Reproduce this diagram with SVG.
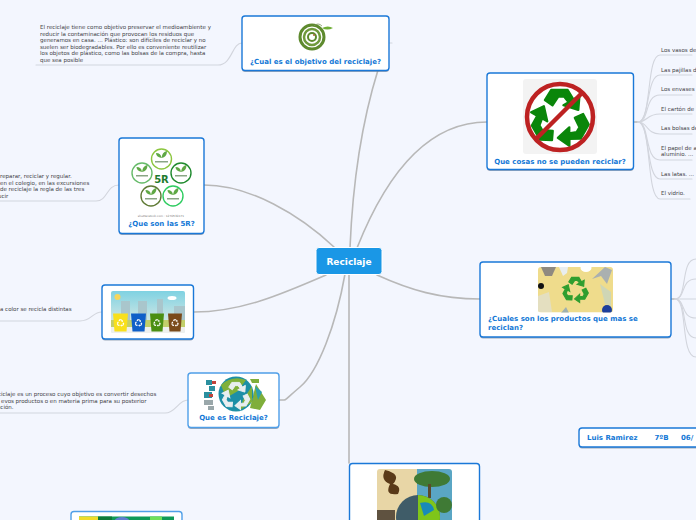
<svg xmlns="http://www.w3.org/2000/svg" width="696" height="520" viewBox="0 0 696 520">
<style>
text{font-family:"DejaVu Sans",Verdana,sans-serif}
.card{fill:#fff;stroke:#1a78d8;stroke-width:1.4}
.shadow{fill:#66758c;opacity:.6}
.t{font-size:7px;font-weight:700;fill:#1378d6}
.n{font-size:5.5px;fill:#3f3f46}
.main{fill:none;stroke:#b8b8b8;stroke-width:1.6;stroke-linecap:round}
.leaf{fill:none;stroke:#d2d5dd;stroke-width:1.1;stroke-linecap:round}
.ring{fill:#fff;stroke-width:1.4}
.lf{fill:#5fa845}
</style>
<defs>
<g id="rec3"><path id="arm" d="M-5.200-6.200L-3-9.700H2.600L4.600-6.400L6.700-7.600L6.300-2.800L1.200-4.400L3-5.400L1.400-7.400H-.6L-2.600-4.400Z"/><use href="#arm" transform="rotate(120)"/><use href="#arm" transform="rotate(240)"/></g>
<linearGradient id="sky" x1="0" y1="0" x2="0" y2="1"><stop offset="0" stop-color="#7fd2e2"/><stop offset=".7" stop-color="#cfe6e4"/></linearGradient>
<clipPath id="photo"><rect x="377" y="469" width="75" height="60" rx="3"/></clipPath>
<clipPath id="prod"><rect x="538" y="267" width="75" height="45.500" rx="3"/></clipPath>
</defs>
<rect width="696" height="520" fill="#f3f6fe"/>
<g id="connectors">
<path class="main" d="M350 248C353 175 364 115 378 70"/>
<path class="main" d="M357 248C380 190 420 122 487 122"/>
<path class="main" d="M334 247C300 215 250 185 204 185"/>
<path class="main" d="M326 275C280 295 240 312 194 312"/>
<path class="main" d="M345 274C336 325 318 372 300 387S288 400 279 400"/>
<path class="main" d="M377 275C410 290 440 299 480 299"/>
<path class="main" d="M349 274V463"/>
<path class="leaf" d="M389 43H392"/>
<path class="leaf" d="M242 43C232 43 232 65 218 65H36"/>
<path class="leaf" d="M119 185C106 185 108 201 96 201H0"/>
<path class="leaf" d="M102 312C92 312 92 321 80 321H0"/>
<path class="leaf" d="M188 400C178 400 176 413 165 413H0"/>
<path class="main" d="M634 122H640"/>
<path class="leaf" d="M638 122C652 122 646 55 660 55H692"/>
<path class="leaf" d="M638 122C650 122 646 75 660 75H692"/>
<path class="leaf" d="M638 122C650 122 644 95 660 95H692"/>
<path class="leaf" d="M638 122C648 122 646 114 660 114H692"/>
<path class="leaf" d="M638 122C648 122 646 134 660 134H692"/>
<path class="leaf" d="M638 122C650 122 644 160 660 160H692"/>
<path class="leaf" d="M638 122C650 122 646 179 660 179H692"/>
<path class="leaf" d="M638 122C652 122 646 199 660 199H690"/>
<path class="main" d="M671 299H677"/>
<path class="leaf" d="M675 299C688 299 680 259 696 259"/>
<path class="leaf" d="M675 299C686 299 680 279 696 279"/>
<path class="leaf" d="M675 299H696"/>
<path class="leaf" d="M675 299C686 299 680 318 696 318"/>
<path class="leaf" d="M675 299C688 299 680 338 696 338"/>
<path class="leaf" d="M675 299C688 299 680 357 696 357"/>
</g>
<g id="central">
<rect x="316" y="247.500" width="66" height="27" rx="3" fill="#1a97e6" stroke="#fff" stroke-width="1"/>
<text x="349" y="265" text-anchor="middle" font-size="9" font-weight="700" fill="#fff">Reciclaje</text>
</g>
<g id="objetivo">
<rect class="shadow" x="242" y="18" width="147" height="54" rx="3"/>
<rect class="card" x="242" y="16" width="147" height="54.500" rx="3"/>
<circle cx="312" cy="37" r="12" fill="#fff" stroke="#5e8a2e" stroke-width="3"/>
<circle cx="312" cy="37" r="8" fill="none" stroke="#6f9a3c" stroke-width="2.500"/>
<circle cx="312" cy="37" r="4" fill="none" stroke="#5e8a2e" stroke-width="2"/>
<circle cx="314" cy="35" r="1" fill="#b0653a"/>
<path d="M314 26Q318 22 322 26" fill="none" stroke="#7f9a60" stroke-width=".8"/>
<path d="M322 28Q328 25 333 28Q327 31 322 28Z" fill="#6fae35"/>
<text class="t" x="315.500" y="64" text-anchor="middle">¿Cual es el objetivo del reciclaje?</text>
</g>
<g id="objetivo-nota">
<text class="n"><tspan x="40" y="29">El reciclaje tiene como objetivo preservar el medioambiente y</tspan><tspan x="40" y="35.500">reducir la contaminación que provocan los residuos que</tspan><tspan x="40" y="42">generamos en casa. ... Plástico: son difíciles de reciclar y no</tspan><tspan x="40" y="48.500">suelen ser biodegradables. Por ello es conveniente reutilizar</tspan><tspan x="40" y="55">los objetos de plástico, como las bolsas de la compra, hasta</tspan><tspan x="40" y="61.500">que sea posible</tspan></text>
</g>
<g id="cinco-r">
<rect class="shadow" x="119" y="140" width="85" height="95" rx="3"/>
<rect class="card" x="119" y="138" width="85" height="95.500" rx="3"/>
<circle class="ring" cx="161.500" cy="159" r="10" stroke="#8cc63f"/>
<circle class="ring" cx="142" cy="173" r="10" stroke="#66bb6a"/>
<circle class="ring" cx="181" cy="173" r="10" stroke="#1f8a2e"/>
<circle class="ring" cx="151" cy="196" r="10" stroke="#5f7a35"/>
<circle class="ring" cx="173" cy="196" r="10" stroke="#2ecc60"/>
<g class="lf">
<path d="M161.500 158Q156 157 156 153Q161 153 161.500 158Q162 152 167 151Q167 157 161.500 158Z"/>
<path d="M142 172Q136.500 171 136.500 167Q141.500 167 142 172Q142.500 166 147.500 165Q147.500 171 142 172Z"/>
<path d="M181 172Q175.500 171 175.500 167Q180.500 167 181 172Q181.500 166 186.500 165Q186.500 171 181 172Z"/>
<path d="M151 195Q145.500 194 145.500 190Q150.500 190 151 195Q151.500 189 156.500 188Q156.500 194 151 195Z"/>
<path d="M173 195Q167.500 194 167.500 190Q172.500 190 173 195Q173.500 189 178.500 188Q178.500 194 173 195Z"/>
</g>
<g fill="#8aa585">
<rect x="155" y="161" width="13" height="1.500"/><rect x="136" y="175" width="12" height="1.500"/><rect x="175" y="175" width="12" height="1.500"/><rect x="145" y="198" width="12" height="1.500"/><rect x="167" y="198" width="12" height="1.500"/>
</g>
<text x="161.500" y="183" text-anchor="middle" font-size="10" font-weight="700" fill="#1f7a2e">5R</text>
<text x="161" y="216.500" text-anchor="middle" font-size="2.900" fill="#777">shutterstock.com · 1270530171</text>
<text class="t" x="161.500" y="226" text-anchor="middle">¿Que son las 5R?</text>
</g>
<g id="cinco-r-nota">
<text class="n"><tspan x="0" y="178">reparar, reciclar y regular.</tspan><tspan x="0" y="184.500">en el colegio, en las excursiones</tspan><tspan x="0" y="191">de reciclaje la regla de las tres</tspan><tspan x="-2" y="197.500">ucir</tspan></text>
</g>
<g id="contenedores">
<rect class="shadow" x="102" y="287" width="91.500" height="53.500" rx="3"/>
<rect class="card" x="102" y="285" width="91.500" height="54" rx="3"/>
<rect x="111" y="291" width="74" height="42" rx="2" fill="url(#sky)"/>
<rect x="121" y="301" width="9" height="22" fill="#a9c6cc"/><rect x="138" y="301" width="9" height="22" fill="#a9c6cc"/><rect x="157" y="299" width="6" height="24" fill="#a9c6cc"/><rect x="174" y="306" width="11" height="17" fill="#a9c6cc"/>
<rect x="111" y="320" width="74" height="7" fill="#c2cf6a"/><path d="M111 327H185V331Q185 333 183 333H113Q111 333 111 331Z" fill="#eef0ee"/>
<circle cx="117.500" cy="297" r="3" fill="#f6d65a"/><ellipse cx="172" cy="298" rx="4.500" ry="2" fill="#fff"/>
<path d="M113 313.500H128L126.500 331.500H114.500Z" fill="#f8e01c"/><path d="M131 313.500H146L144.500 331.500H132.500Z" fill="#0f5fc8"/><path d="M150 313.500H164L162.500 331.500H151.500Z" fill="#4b8f12"/><path d="M168 313.500H182L180.500 331.500H169.500Z" fill="#7a4a1a"/>
<g fill="#fff"><use href="#rec3" transform="translate(120.500 323) scale(.38)"/><use href="#rec3" transform="translate(138.500 323) scale(.38)"/><use href="#rec3" transform="translate(157 323) scale(.38)"/><use href="#rec3" transform="translate(175 323) scale(.38)"/></g>
</g>
<text id="contenedores-nota" class="n" x="0" y="311">a color se recicla distintas</text>
<g id="que-es">
<rect class="shadow" x="188" y="375" width="91" height="54" rx="3"/>
<rect class="card" x="188" y="373" width="91" height="54.500" rx="3" style="stroke:#4f9fe8"/>
<g fill="#2a8f9f"><rect x="206" y="380" width="6" height="5"/><rect x="204" y="392" width="8" height="6"/><rect x="209" y="386" width="6" height="5"/></g>
<g fill="#c0433a"><rect x="212" y="381" width="4" height="3"/><rect x="209" y="394" width="4" height="3"/></g>
<g fill="#9aa7aa"><rect x="204" y="400" width="9" height="5"/><rect x="208" y="406" width="6" height="4"/></g>
<path d="M250 379H259V383H252ZM256 384L266 400L260 410L250 408Z" fill="#7fae3a"/>
<path d="M255 386L262 392L258 400Z" fill="#2a9fae"/>
<circle cx="236" cy="394" r="17.500" fill="#1d8fa6"/>
<path d="M221 385Q232 375 246 380L238 391L226 398Z" fill="#7fb03a"/><path d="M243 400L252 386L252 402L240 410Z" fill="#7fb03a"/>
<use href="#rec3" fill="#e8eef0" stroke="#e8eef0" stroke-width=".7" transform="translate(236 396) scale(1.400)"/>
<text class="t" x="233.500" y="420" text-anchor="middle">Que es Reciclaje?</text>
</g>
<g id="que-es-nota">
<text class="n"><tspan x="-2" y="396">ciclaje es un proceso cuyo objetivo es convertir desechos</tspan><tspan x="1" y="402.500">evos productos o en materia prima para su posterior</tspan><tspan x="-3" y="409">ación.</tspan></text>
</g>
<g id="no-reciclar">
<rect class="shadow" x="487" y="75" width="146.500" height="96" rx="3"/>
<rect class="card" x="487" y="73" width="146.500" height="96.500" rx="3"/>
<rect x="523" y="79" width="74" height="75" rx="3" fill="#f3f3f3"/>
<circle cx="560" cy="117" r="33" fill="#fff"/>
<use href="#rec3" fill="#0a860a" stroke="#0a860a" stroke-width=".8" stroke-linejoin="round" transform="translate(560 118) scale(2.900)"/>
<circle cx="560" cy="117" r="33" fill="none" stroke="#bd2222" stroke-width="4.500"/>
<path d="M536 139L581 94" stroke="#bd2222" stroke-width="4.500" fill="none"/>
<text class="t" x="560" y="163.500" text-anchor="middle">Que cosas no se pueden reciclar?</text>
</g>
<g id="no-reciclar-items">
<text class="n" x="661" y="51.500">Los vasos de</text>
<text class="n" x="661" y="71.500">Las pajillas d</text>
<text class="n" x="661" y="91">Los envases</text>
<text class="n" x="661" y="110.500">El cartón de</text>
<text class="n" x="661" y="129.500">Las bolsas de</text>
<text class="n"><tspan x="661" y="149.500">El papel de a</tspan><tspan x="661" y="156">aluminio. ...</tspan></text>
<text class="n" x="661" y="175.500">Las latas. ...</text>
<text class="n" x="661" y="195">El vidrio.</text>
</g>
<g id="productos">
<rect class="shadow" x="480" y="264" width="191" height="74.500" rx="3"/>
<rect class="card" x="480" y="262" width="191" height="75" rx="3"/>
<g clip-path="url(#prod)">
<rect x="538" y="267" width="75" height="45.500" fill="#efdc8c"/>
<path d="M541 267H556L552 276H545Z" fill="#8f8a80"/><path d="M559 267H568L567 273L563 276Z" fill="#e9eef0"/><ellipse cx="586" cy="268" rx="5.500" ry="4" fill="#fff"/><path d="M592 279L605 267L612 270L607 284L601 276Z" fill="#aab0b0"/>
<circle cx="541" cy="286" r="3" fill="#111"/><path d="M538 296L549 292L552 312H538Z" fill="#e4dfc0"/><path d="M600 284L611 292V306L605 304Z" fill="#cfd6b5"/><circle cx="607" cy="310" r="5" fill="#1c3f9c"/><path d="M561 313L566 307L569 313Z" fill="#9fb0b0"/>
</g>
<use href="#rec3" fill="#2f9e2f" stroke="#2f9e2f" stroke-width=".8" transform="translate(575.500 290) scale(1.300)"/>
<text class="t"><tspan x="488" y="321">¿Cuales son los productos que mas se</tspan><tspan x="488" y="330">reciclan?</tspan></text>
</g>
<g id="autor">
<rect class="shadow" x="579" y="430" width="130" height="18.500" rx="3"/>
<rect class="card" x="579" y="428" width="130" height="19" rx="3"/>
<text class="t" x="587" y="440">Luis Ramirez</text>
<text class="t" x="654.500" y="440">7ºB</text>
<text class="t" x="681" y="440">06/</text>
</g>
<g id="mundo">
<rect class="card" x="349.500" y="463.500" width="130" height="70" rx="3"/>
<g clip-path="url(#photo)">
<rect x="377" y="469" width="40" height="55" fill="#e8d6a6"/>
<path d="M385 470Q402 474 393 484Q402 486 398 494Q384 496 390 484Q380 480 385 470Z" fill="#5a3a18"/>
<rect x="417" y="469" width="35" height="55" fill="#5aa6c4"/>
<ellipse cx="432" cy="479" rx="18" ry="8" fill="#3f7a35"/>
<rect x="428" y="484" width="3" height="14" fill="#5b4a2a"/>
<circle cx="418" cy="517" r="22" fill="#3f5c68"/>
<path d="M418 495A22 22 0 0 1 418 539Z" fill="#7fc51a"/>
<path d="M420 503Q432 500 434 510L424 516Z" fill="#1a8ab8"/>
<circle cx="444" cy="505" r="8" fill="#3f7a35"/>
<rect x="377" y="510" width="18" height="14" fill="#5f5240"/>
</g>
</g>
<g id="verde">
<rect class="card" x="71" y="511.500" width="111" height="20" rx="3" style="stroke:#4f9fe8"/>
<rect x="79" y="516.500" width="95" height="8" fill="#0f9a58"/>
<rect x="79" y="516.500" width="19" height="8" fill="#f0dc2a"/>
<rect x="98" y="516.500" width="14" height="8" fill="#0f7a3a"/>
<ellipse cx="122" cy="520" rx="7" ry="3" fill="#5f7fd0"/>
<rect x="150" y="516.500" width="12" height="8" fill="#6fe05a"/>
</g>
</svg>
